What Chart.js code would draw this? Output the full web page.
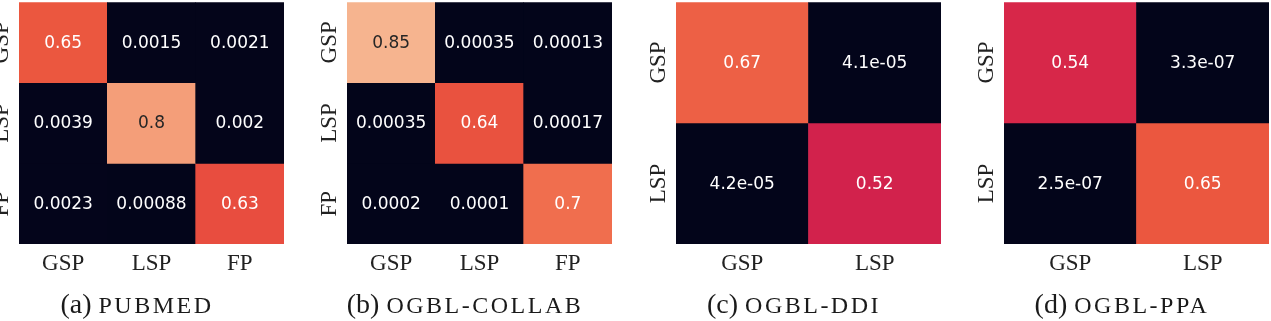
<!DOCTYPE html>
<html>
<head>
<meta charset="utf-8">
<script src="https://cdn.jsdelivr.net/npm/chart.js@4.4.0/dist/chart.umd.min.js"></script>
<style>
  html, body { margin: 0; padding: 0; background: #fff; }
  body { width: 1271px; height: 321px; position: relative; overflow: hidden; }
  .panel { position: absolute; top: 0; }
  .caption {
    position: absolute; top: 290px; width: 300px; text-align: center;
    font-family: 'Liberation Serif', serif; font-size: 28px; line-height: 1;
    color: #1a1a1a; white-space: nowrap;
  }
  .caption .sc { font-size: 24px; letter-spacing: 2.5px; }
</style>
</head>
<body>
<canvas id="hmA" class="panel" width="295" height="290" style="left:-11px"></canvas>
<canvas id="hmB" class="panel" width="295" height="290" style="left:317px"></canvas>
<canvas id="hmC" class="panel" width="295" height="290" style="left:646px"></canvas>
<canvas id="hmD" class="panel" width="295" height="290" style="left:974px"></canvas>
<div class="caption" style="left:-13px">(a) <span class="sc">PUBMED</span></div>
<div class="caption" style="left:315px">(b) <span class="sc">OGBL-COLLAB</span></div>
<div class="caption" style="left:644px">(c) <span class="sc">OGBL-DDI</span></div>
<div class="caption" style="left:972px">(d) <span class="sc">OGBL-PPA</span></div>
<script>
// category labels
const cats3 = ['GSP', 'LSP', 'FP'];
const cats2 = ['GSP', 'LSP'];

// cell values (rows = y labels, cols = x labels)
const pubmedVals = [
  [0.65, 0.0015, 0.0021],
  [0.0039, 0.8, 0.002],
  [0.0023, 0.00088, 0.63],
];
const collabVals = [
  [0.85, 0.00035, 0.00013],
  [0.00035, 0.64, 0.00017],
  [0.0002, 0.0001, 0.7],
];
const ddiVals = [
  [0.67, 4.1e-05],
  [4.2e-05, 0.52],
];
const ppaVals = [
  [0.54, 3.3e-07],
  [2.5e-07, 0.65],
];

// seaborn "rocket" colormap, vmin 0 / vmax 1
const ROCKET = [
  [0.00, '#03051a'],
  [0.25, '#5a1e51'],
  [0.50, '#cd1c4f'],
  [0.55, '#da2a48'],
  [0.60, '#e33e40'],
  [0.65, '#eb573f'],
  [0.70, '#f06e4e'],
  [0.75, '#f3855f'],
  [0.80, '#f49e79'],
  [0.85, '#f6b48f'],
  [0.90, '#f7c8ac'],
  [1.00, '#faebdd'],
];
const GRID = 'rgba(255,255,255,0.16)';
const NONE = 'rgba(0,0,0,0)';

const hexRgb = h => [1, 3, 5].map(i => parseInt(h.slice(i, i + 2), 16));

function rocketRgb(v) {
  for (let k = 1; k < ROCKET.length; k++) {
    const [p1, c1] = ROCKET[k];
    if (v <= p1) {
      const [p0, c0] = ROCKET[k - 1];
      const t = (v - p0) / (p1 - p0);
      const a = hexRgb(c0), b = hexRgb(c1);
      return a.map((x, i) => Math.round(x + (b[i] - x) * t));
    }
  }
  return hexRgb(ROCKET[ROCKET.length - 1][1]);
}
const cellColor = v => `rgb(${rocketRgb(v).join(',')})`;

function textColor(v) {
  const lin = rocketRgb(v).map(c => {
    c /= 255;
    return c <= 0.03928 ? c / 12.92 : Math.pow((c + 0.055) / 1.055, 2.4);
  });
  const lum = 0.2126 * lin[0] + 0.7152 * lin[1] + 0.0722 * lin[2];
  return lum > 0.408 ? '#262626' : '#ffffff';
}

// python-style '.2g'
function fmt2g(v) {
  const e = Math.floor(Math.log10(Math.abs(v)));
  if (e < -4 || e >= 2) {
    const [m, ex] = v.toExponential(1).split('e');
    const sign = ex[0] === '-' ? '-' : '+';
    return m.replace(/\.0$/, '') + 'e' + sign + ex.replace(/^[+-]/, '').padStart(2, '0');
  }
  return parseFloat(v.toPrecision(2)).toString();
}

const cellText = {
  id: 'cellText',
  afterDatasetsDraw(chart) {
    const { ctx } = chart;
    ctx.save();
    ctx.font = "17px 'DejaVu Sans'";
    ctx.textAlign = 'center';
    ctx.textBaseline = 'middle';
    chart.data.datasets.forEach((ds, i) => {
      chart.getDatasetMeta(i).data.forEach((bar, j) => {
        const v = ds.cellValues[j];
        ctx.fillStyle = textColor(v);
        ctx.fillText(fmt2g(v), bar.x, (bar.y + bar.base) / 2 + 1);
      });
    });
    ctx.restore();
  }
};

const rowLabels = {
  id: 'rowLabels',
  afterDraw(chart) {
    const { ctx, chartArea, scales: { y } } = chart;
    ctx.save();
    ctx.font = "23px 'Liberation Serif'";
    ctx.fillStyle = '#222';
    ctx.textAlign = 'center';
    ctx.textBaseline = 'alphabetic';
    chart.data.datasets.forEach((ds, i) => {
      ctx.save();
      ctx.translate(chartArea.left - 11, y.getPixelForValue(i + 0.5));
      ctx.rotate(-Math.PI / 2);
      ctx.fillText(ds.label, 0, 0);
      ctx.restore();
    });
    ctx.restore();
  }
};

function makeHeatmap(id, values, cats) {
  const n = cats.length;
  const datasets = values.map((row, i) => ({
    label: cats[i],
    data: row.map(() => [i, i + 1]),
    cellValues: row,
    backgroundColor: row.map(cellColor),
    borderWidth: 0,
    grouped: false,
    barPercentage: 1,
    categoryPercentage: 1,
  }));

  return new Chart(document.getElementById(id), {
    type: 'bar',
    data: { labels: cats, datasets },
    options: {
      responsive: false,
      animation: false,
      events: [],
      layout: { padding: { top: 2, left: 0, right: 0, bottom: 0 } },
      plugins: { legend: { display: false }, tooltip: { enabled: false } },
      scales: {
        x: {
          z: 1,
          grid: {
            offset: true,
            drawTicks: false,
            color: c => (c.type !== 'tick' || c.index === 0) ? NONE : GRID,
          },
          border: { display: false },
          ticks: { color: '#222', font: { family: "'Liberation Serif', serif", size: 23 }, padding: 6 },
          afterFit: s => { s.height = 46; },
        },
        y: {
          type: 'linear',
          min: 0,
          max: n,
          reverse: true,
          z: 1,
          ticks: { display: false, stepSize: 1 },
          grid: {
            drawTicks: false,
            color: c => (c.tick && c.tick.value > 0 && c.tick.value < n) ? GRID : NONE,
          },
          border: { display: false },
          afterFit: s => { s.width = 30; },
        },
      },
    },
    plugins: [cellText, rowLabels],
  });
}

makeHeatmap('hmA', pubmedVals, cats3);
makeHeatmap('hmB', collabVals, cats3);
makeHeatmap('hmC', ddiVals, cats2);
makeHeatmap('hmD', ppaVals, cats2);
</script>
</body>
</html>
